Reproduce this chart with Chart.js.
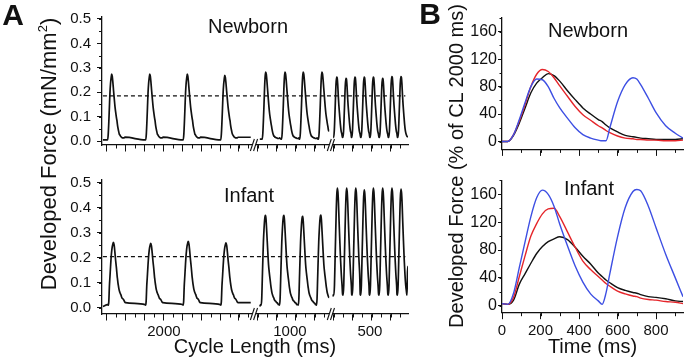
<!DOCTYPE html>
<html>
<head>
<meta charset="utf-8">
<script src="https://cdn.jsdelivr.net/npm/chart.js@4.4.1/dist/chart.umd.min.js"></script>
<style>
  body { margin: 0; background: #fff; }
  #fig { position: relative; width: 685px; height: 361px; overflow: hidden;
         font-family: "Liberation Sans", Arial, Helvetica, sans-serif; color: #111; }
  .box { position: absolute; }
  .txt { position: absolute; white-space: nowrap; line-height: 1; transform: translate(-50%, -50%); }
  .rot { transform: translate(-50%, -50%) rotate(-90deg); }
  .big { font-weight: bold; font-size: 30px; }
</style>
</head>
<body>
<div id="fig">
  <div class="box" style="left:0;top:0;width:420px;height:160px"><canvas id="aTop"></canvas></div>
  <div class="box" style="left:0;top:165px;width:420px;height:196px"><canvas id="aBottom"></canvas></div>
  <div class="box" style="left:420px;top:0;width:265px;height:160px"><canvas id="bTop"></canvas></div>
  <div class="box" style="left:420px;top:165px;width:265px;height:196px"><canvas id="bBottom"></canvas></div>

  <div class="txt big" style="left:13px;top:15px">A</div>
  <div class="txt big" style="left:430px;top:14px">B</div>
  <div class="txt rot" style="left:48px;top:154px;font-size:22px">Developed Force (mN/mm<sup style="font-size:13px">2</sup>)</div>
  <div class="txt rot" style="left:456px;top:166px;font-size:20px">Developed Force (% of CL 2000 ms)</div>
  <div class="txt" style="left:248px;top:26px;font-size:20px">Newborn</div>
  <div class="txt" style="left:249px;top:195px;font-size:20px">Infant</div>
  <div class="txt" style="left:588px;top:30px;font-size:20px">Newborn</div>
  <div class="txt" style="left:589px;top:188px;font-size:20px">Infant</div>
</div>

<script>
// panel B: one twitch at each cycle length, % of the CL 2000 ms peak, ms after the stimulus
const twitchTime = [0, 30, 60, 90, 120, 150, 180, 210, 240, 270, 300, 340, 380, 420, 460, 500, 520, 540, 560, 600, 640, 680, 700, 720, 760, 800, 850, 900, 940];
const newbornCL2000 = [0, 0, 9, 27, 49, 71, 85, 93, 99, 96, 88, 74, 61, 49, 40, 32, 29, 24, 20, 14, 9, 7, 6, 5, 4, 3, 3, 3, 4];
const newbornCL1000 = [0, 0, 10, 30, 54, 80, 98, 105, 102, 93, 81, 66, 51, 39, 31, 23, 20, 16, 13, 8, 5, 4, 3, 3, 2, 2, 1, 1, 2];
const newbornCL500 = [0, 0, 10, 32, 57, 80, 91, 90, 80, 63, 49, 34, 20, 10, 5, 2, 1, 1, 20, 58, 83, 93, 91, 83, 63, 42, 23, 12, 5];
const infantCL2000 = [3, 2, 8, 31, 46, 61, 75, 85, 92, 96, 99, 95, 84, 71, 60, 47, 42, 37, 33, 26, 22, 19, 18, 16, 13, 12, 10, 7, 6];
const infantCL1000 = [3, 2, 12, 42, 72, 100, 118, 132, 139, 140, 128, 106, 84, 64, 52, 42, 37, 32, 28, 21, 17, 14, 13, 11, 9, 8, 6, 5, 3];
const infantCL500 = [3, 2, 18, 55, 92, 128, 155, 166, 160, 143, 117, 86, 57, 34, 17, 7, 2, 18, 46, 99, 141, 164, 167, 165, 143, 112, 74, 40, 13];

// panel A: stimulus time of every beat on the recording (ms) and its peak force (mN/mm2)
const newbornStim = [40, 2050, 4030, 6010, 8200, 9220, 10180, 11170, 11970, 12460, 12930, 13420, 13900, 14390, 14880, 15360];
const newbornPeak = [0.274, 0.274, 0.274, 0.269, 0.282, 0.282, 0.282, 0.282, 0.262, 0.257, 0.262, 0.262, 0.262, 0.257, 0.264, 0.264];
const newbornBase = [0.005, 0.008, 0.015];
const infantStim = [70, 2040, 4020, 6010, 8140, 9110, 10100, 11060, 11980, 12470, 12950, 13400, 13880, 14370, 14860, 15340];
const infantPeak = [0.261, 0.257, 0.265, 0.259, 0.369, 0.369, 0.365, 0.370, 0.478, 0.478, 0.478, 0.471, 0.478, 0.478, 0.478, 0.474];
const infantBase = [0.005, 0.005, 0.045];
const blockSpan = [[-180, 7620], [8100, 11760], [11970, 15920]]; // CL 2000, 1000, 500 ms blocks
const axisBreaks = [7790, 11850];
const dashSpan = [-180, 15780];
const newbornDash = 0.185;
const infantDash = 0.204;
const cycleLabels = ["2000", "1000", "500"];
const cycleLabelAt = [3040, 9690, 13910];

const ink = "#111";
const blue = "#3d4fe3";
const red = "#e5262b";

Chart.defaults.font.family = '"Liberation Sans", Arial, Helvetica, sans-serif';
Chart.defaults.color = ink;
Chart.defaults.animation = false;

function stepTicks(step) {
  return s => {
    s.ticks = [];
    const first = Math.ceil(s.min / step - 1e-9);
    for (let k = first; k * step <= s.max + 1e-9; k++) s.ticks.push({ value: +(k * step).toFixed(6) });
  };
}

// short unlabelled ticks between the labelled ones
const minorTicks = {
  id: "minorTicks",
  afterDraw(chart, args, opts) {
    const ctx = chart.ctx;
    ctx.save();
    ctx.strokeStyle = ink;
    ctx.lineWidth = 1;
    ["x", "y"].forEach(id => {
      const sc = chart.scales[id];
      const o = opts[id];
      if (!sc || !o) return;
      const first = Math.ceil(sc.min / o.step - 1e-9);
      for (let k = first; k * o.step <= sc.max + 1e-9; k++) {
        const p = Math.round(sc.getPixelForValue(k * o.step)) + 0.5;
        ctx.beginPath();
        if (sc.isHorizontal()) {
          ctx.moveTo(p, sc.top);
          ctx.lineTo(p, sc.top + o.len);
        } else {
          ctx.moveTo(sc.right, p);
          ctx.lineTo(sc.right - o.len, p);
        }
        ctx.stroke();
      }
    });
    ctx.restore();
  }
};

// "//" marks where the recording axis is cut
const breakMarks = {
  id: "breakMarks",
  afterDraw(chart, args, opts) {
    if (!opts.at) return;
    const ctx = chart.ctx;
    const y = chart.chartArea.bottom;
    ctx.save();
    opts.at.forEach(v => {
      const x = chart.scales.x.getPixelForValue(v);
      ctx.fillStyle = "#fff";
      ctx.beginPath();
      ctx.moveTo(x - 3.5, y + 6);
      ctx.lineTo(x + 0.5, y - 6);
      ctx.lineTo(x + 3.5, y - 6);
      ctx.lineTo(x - 0.5, y + 6);
      ctx.closePath();
      ctx.fill();
      ctx.strokeStyle = ink;
      ctx.lineWidth = 1.1;
      [-1.6, 1.6].forEach(d => {
        ctx.beginPath();
        ctx.moveTo(x + d - 2, y + 6);
        ctx.lineTo(x + d + 2, y - 6);
        ctx.stroke();
      });
    });
    ctx.restore();
  }
};

// lay the panel B twitch of each block onto every beat of panel A
function buildTrace(stims, peaks, bases, shapes) {
  const pts = [];
  blockSpan.forEach(([from, to], b) => {
    const beats = stims.map((s, i) => i).filter(i => stims[i] >= from && stims[i] < to);
    const base = bases[b];
    const shape = shapes[b];
    if (from < stims[beats[0]]) pts.push({ x: from, y: base });
    let last = base;
    beats.forEach((i, k) => {
      const end = k < beats.length - 1 ? stims[beats[k + 1]] : to;
      const n = twitchTime.filter(t => stims[i] + t < end).length;
      const top = Math.max(...shape.slice(0, n));
      for (let j = 0; j < n; j++) {
        last = base + (peaks[i] - base) * shape[j] / top;
        pts.push({ x: stims[i] + twitchTime[j], y: last });
      }
    });
    if (pts[pts.length - 1].x < to) pts.push({ x: to, y: last });
    pts.push({ x: to + 1, y: null });
  });
  return pts;
}

function axisLook(tickLength) {
  return {
    grid: { drawOnChartArea: false, tickLength: tickLength, color: ink, lineWidth: 1 },
    border: { color: ink, width: 1.3 }
  };
}

function forceChart(id, trace, dashLevel, yMin, yMax, padTop, withLabels) {
  const scales = {
    x: Object.assign({
      type: "linear", min: -230, max: 15920, weight: 0,
      afterBuildTicks: stepTicks(1000),
      afterFit: s => { s.height = withLabels ? 8 : 11; },
      ticks: { display: false }
    }, axisLook(6.5)),
    y: Object.assign({
      min: yMin, max: yMax,
      afterBuildTicks: stepTicks(0.1),
      afterFit: s => { s.width = 102; },
      ticks: { padding: 6, font: { size: 15 }, callback: v => v.toFixed(1) }
    }, axisLook(5))
  };
  if (withLabels) {
    scales.xl = {
      type: "linear", axis: "x", position: "bottom", min: -230, max: 15920, weight: 1,
      afterBuildTicks: s => { s.ticks = cycleLabelAt.map(v => ({ value: v })); },
      afterFit: s => { s.height = 39; },
      grid: { display: false, drawTicks: false },
      border: { display: false },
      ticks: { padding: 0.5, font: { size: 15 }, maxRotation: 0, autoSkip: false, callback: (v, i) => cycleLabels[i] },
      title: { display: true, text: "Cycle Length (ms)", font: { size: 20 }, padding: { top: 0, bottom: 1.5 } }
    };
  }
  new Chart(document.getElementById(id), {
    type: "line",
    data: {
      datasets: [
        { data: trace, borderColor: ink, borderWidth: 1.7, pointRadius: 0, cubicInterpolationMode: "monotone" },
        { data: dashSpan.map(x => ({ x: x, y: dashLevel })), borderColor: ink, borderWidth: 1.2, borderDash: [4, 3], pointRadius: 0 }
      ]
    },
    options: {
      responsive: true,
      maintainAspectRatio: false,
      layout: { padding: { top: padTop, right: 12, bottom: 0, left: 0 } },
      plugins: {
        legend: { display: false },
        tooltip: { enabled: false },
        minorTicks: { x: { step: 500, len: 3.5 }, y: { step: 0.05, len: 3 } },
        breakMarks: { at: axisBreaks }
      },
      scales: scales
    },
    plugins: [minorTicks, breakMarks]
  });
}

function twitchChart(id, cl2000, cl1000, cl500, yMin, padTop, withLabels) {
  const pair = v => twitchTime.map((t, i) => ({ x: t, y: v[i] }));
  const line = (v, c) => ({ data: pair(v), borderColor: c, borderWidth: 1.4, pointRadius: 0, cubicInterpolationMode: "monotone" });
  new Chart(document.getElementById(id), {
    type: "line",
    data: { datasets: [line(cl500, blue), line(cl1000, red), line(cl2000, ink)] },
    options: {
      responsive: true,
      maintainAspectRatio: false,
      layout: { padding: { top: padTop, right: 2, bottom: 0, left: 0 } },
      plugins: {
        legend: { display: false },
        tooltip: { enabled: false },
        minorTicks: { x: { step: 100, len: 3.5 }, y: { step: 20, len: 2.5 } },
        breakMarks: {}
      },
      scales: {
        x: Object.assign({
          type: "linear", min: 0, max: 940,
          afterBuildTicks: stepTicks(200),
          afterFit: s => { s.height = withLabels ? 48.3 : 9; },
          ticks: { display: withLabels, padding: 2.3, font: { size: 15 }, maxRotation: 0, autoSkip: false },
          title: { display: withLabels, text: "Time (ms)", font: { size: 20 }, padding: { top: 0, bottom: 2 } }
        }, axisLook(6.5)),
        y: Object.assign({
          min: yMin, max: 180,
          afterBuildTicks: stepTicks(40),
          afterFit: s => { s.width = 82; },
          ticks: { padding: 1, font: { size: 16 } }
        }, axisLook(4))
      }
    },
    plugins: [minorTicks]
  });
}

forceChart("aTop", buildTrace(newbornStim, newbornPeak, newbornBase, [newbornCL2000, newbornCL1000, newbornCL500]),
  newbornDash, -0.016, 0.51, 16.5, false);
forceChart("aBottom", buildTrace(infantStim, infantPeak, infantBase, [infantCL2000, infantCL1000, infantCL500]),
  infantDash, -0.0249, 0.51, 13.5, true);
twitchChart("bTop", newbornCL2000, newbornCL1000, newbornCL500, -11.5, 18, false);
twitchChart("bBottom", infantCL2000, infantCL1000, infantCL500, -10, 15.4, true);
</script>
</body>
</html>
